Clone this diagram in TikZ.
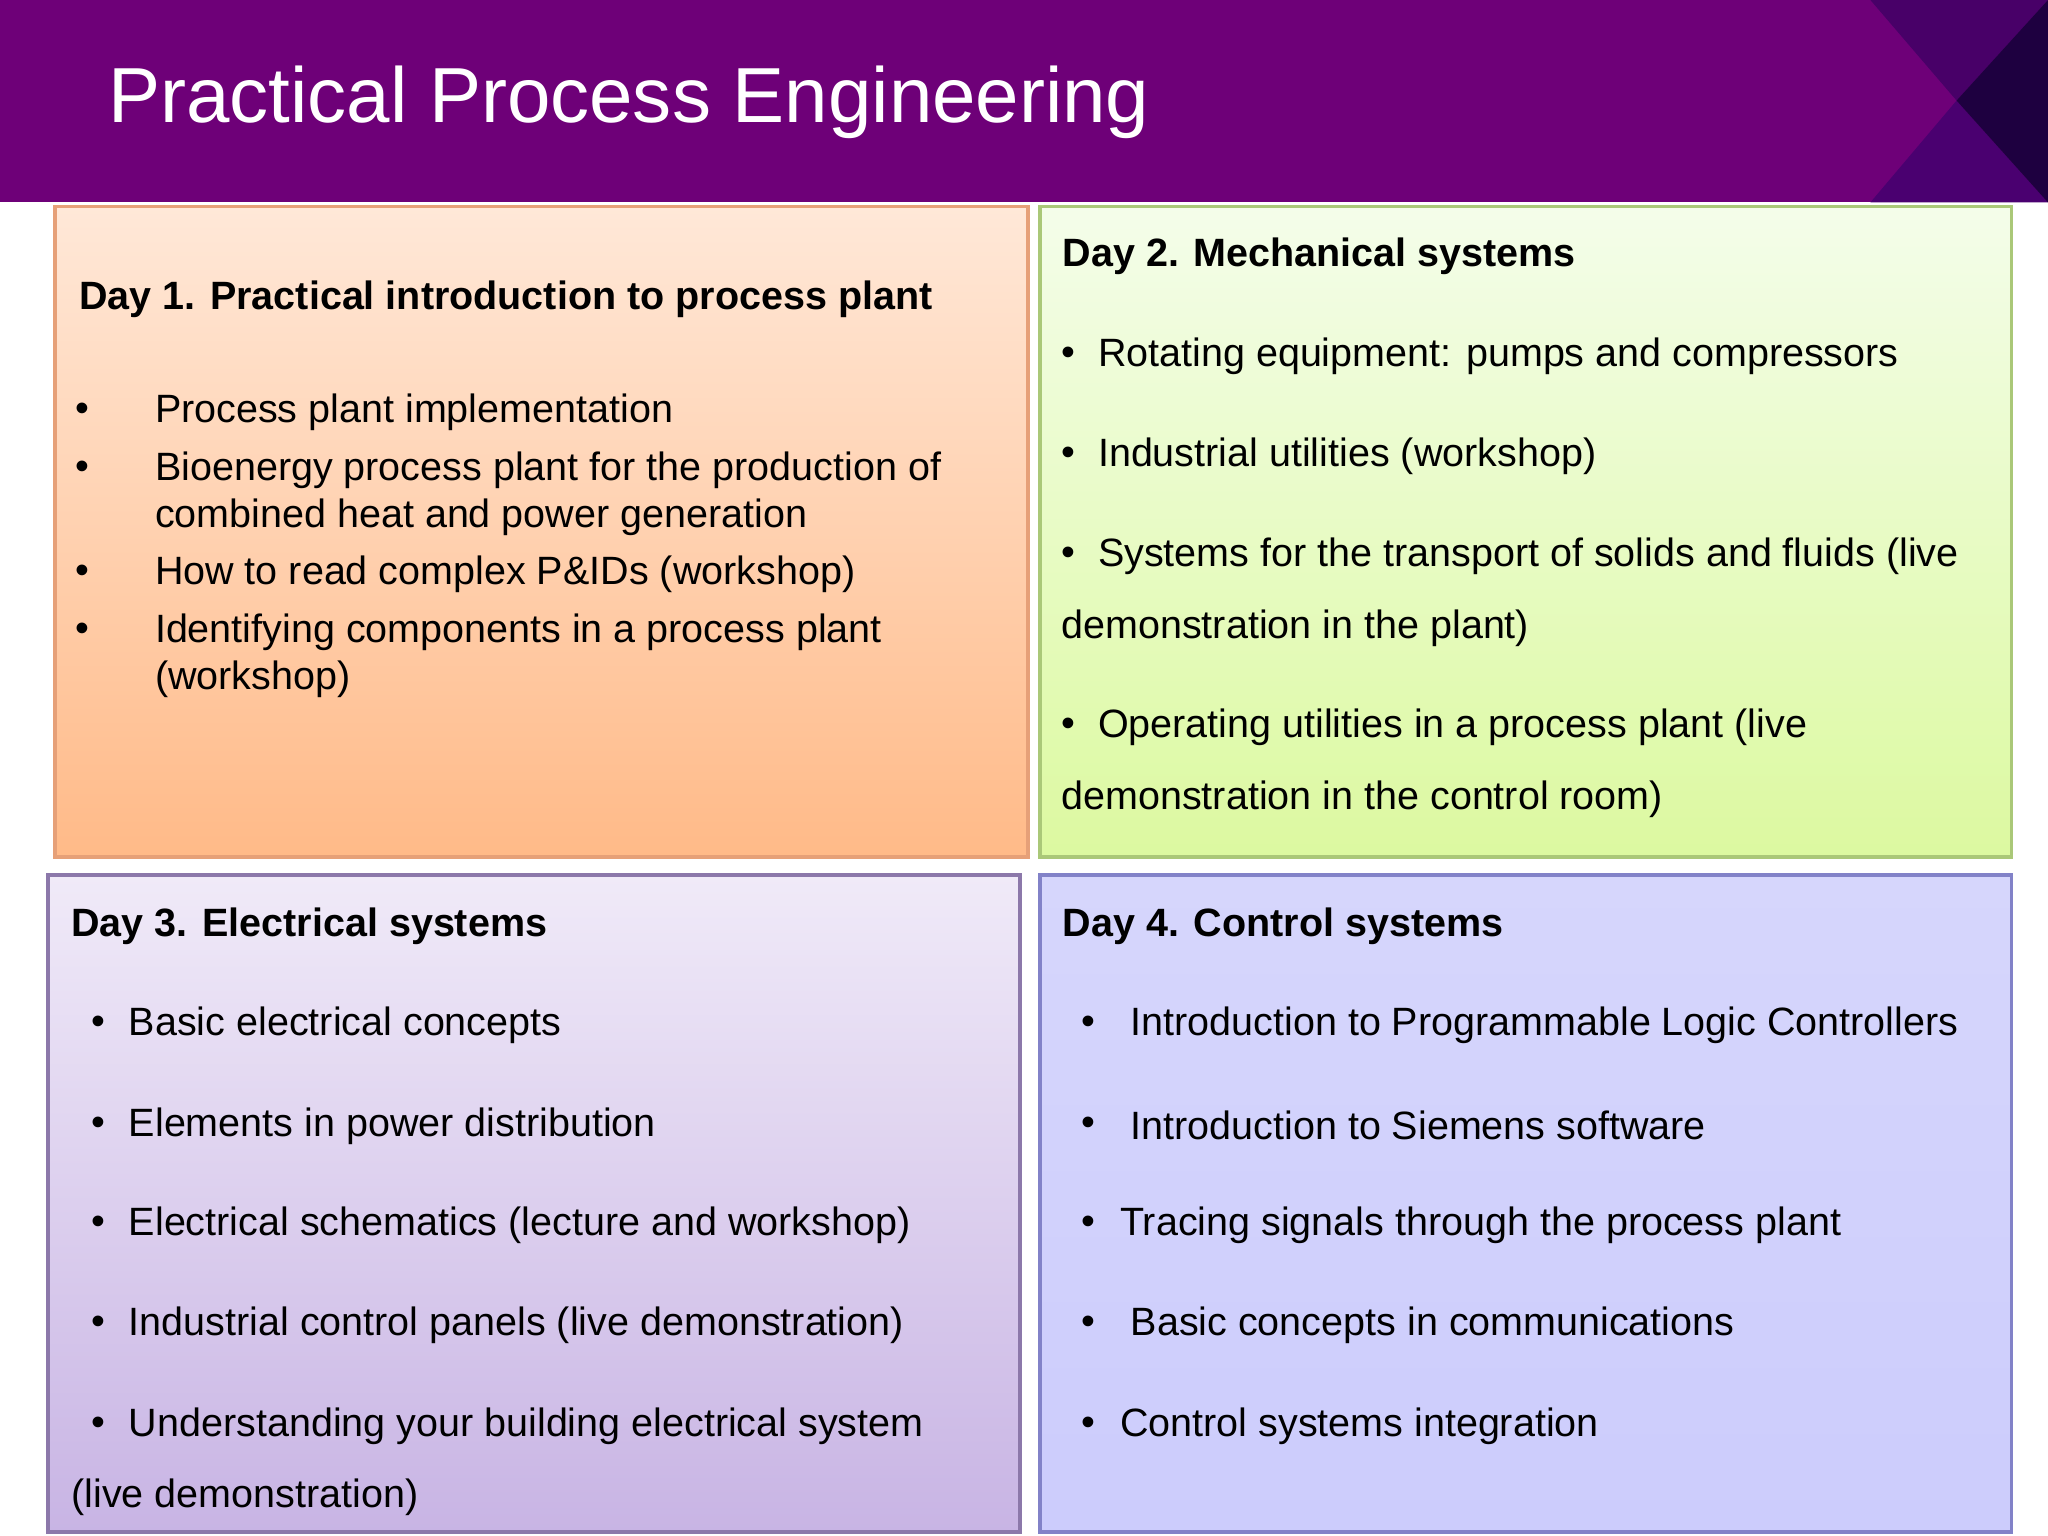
\documentclass[tikz,border=0pt]{standalone}
\usepackage{fontspec}
\setmainfont{Liberation Sans}
\definecolor{hdr}{HTML}{6E0078}
\definecolor{tri1}{RGB}{72,0,104}
\definecolor{tri2}{RGB}{74,0,112}
\definecolor{tri3}{RGB}{30,0,64}
\definecolor{oT}{RGB}{255,232,216}\definecolor{oB}{RGB}{255,186,136}\definecolor{oL}{RGB}{230,160,120}
\definecolor{gT}{RGB}{244,253,234}\definecolor{gB}{RGB}{220,249,160}\definecolor{gL}{RGB}{170,200,120}
\definecolor{pT}{RGB}{240,234,248}\definecolor{pB}{RGB}{200,180,228}\definecolor{pL}{RGB}{140,120,170}
\definecolor{bT}{RGB}{214,214,252}\definecolor{bB}{RGB}{204,204,252}\definecolor{bL}{RGB}{130,130,200}
\begin{document}
\begin{tikzpicture}[x=0.01cm,y=-0.01cm,
 box/.style={draw=#1,line width=0.8pt},
 t/.style={anchor=west,inner sep=0pt,font=\fontsize{8.6}{10}\selectfont},
 h/.style={t,font=\fontsize{8.6}{10}\selectfont\bfseries},
 b/.style={anchor=center,inner sep=0pt,font=\fontsize{8.6}{10}\selectfont}]
\useasboundingbox (0,0) rectangle (1568,1176);
\fill[white] (0,0) rectangle (1568,1176);
\fill[hdr] (0,0) rectangle (1568,155);
\fill[tri1] (1432,0) -- (1568,0) -- (1498,77) -- cycle;
\fill[tri2] (1432,155) -- (1568,155) -- (1498,77) -- cycle;
\fill[tri3] (1568,0) -- (1498,77) -- (1568,155) -- cycle;
\node[anchor=west,inner sep=0pt,text=white,font=\fontsize{17}{20}\selectfont] (title) at (82,78) {Practical Process Engineering};
% boxes
\shade[top color=oT,bottom color=oB] (42,158) rectangle (787,656);
\draw[box=oL] (42,158) rectangle (787,656);
\shade[top color=gT,bottom color=gB] (796,158) rectangle (1540,656);
\draw[box=gL] (796,158) rectangle (1540,656);
\shade[top color=pT,bottom color=pB] (37,670) rectangle (781,1173);
\draw[box=pL] (37,670) rectangle (781,1173);
\shade[top color=bT,bottom color=bB] (796,670) rectangle (1540,1173);
\draw[box=bL] (796,670) rectangle (1540,1173);
% Day 1
\node[h] (d1) at (60,229) {Day 1. Practical introduction to process plant};
\foreach \y in {316,360,440,484} \node[b] at (63,\y) {•};
\node[t] (d1a) at (118,316) {Process plant implementation};
\node[t] (d1b) at (118,360) {Bioenergy process plant for the production of};
\node[t] (d1c) at (118,396) {combined heat and power generation};
\node[t] (d1d) at (118,440) {How to read complex P\&IDs (workshop)};
\node[t] (d1e) at (118,484) {Identifying components in a process plant};
\node[t] (d1f) at (118,520) {(workshop)};
% Day 2
\node[h] (d2) at (813,196) {Day 2. Mechanical systems};
\foreach \y in {273,349,426,557} \node[b] at (818,\y) {•};
\node[t] (d2a) at (840,273) {Rotating equipment: pumps and compressors};
\node[t] (d2b) at (840,349) {Industrial utilities (workshop)};
\node[t] (d2c) at (840,426) {Systems for the transport of solids and fluids (live};
\node[t] (d2d) at (812,481) {demonstration in the plant)};
\node[t] (d2e) at (840,557) {Operating utilities in a process plant (live};
\node[t] (d2f) at (812,612) {demonstration in the control room)};
% Day 3
\node[h] (d3) at (54,709) {Day 3. Electrical systems};
\foreach \y in {785,862,938,1015,1092} \node[b] at (75,\y) {•};
\node[t] (d3a) at (98,785) {Basic electrical concepts};
\node[t] (d3b) at (98,862) {Elements in power distribution};
\node[t] (d3c) at (98,938) {Electrical schematics (lecture and workshop)};
\node[t] (d3d) at (98,1015) {Industrial control panels (live demonstration)};
\node[t] (d3e) at (98,1092) {Understanding your building electrical system};
\node[t] (d3f) at (54,1146) {(live demonstration)};
% Day 4
\node[h] (d4) at (813,709) {Day 4. Control systems};
\foreach \y in {785,862,938,1015,1092} \node[b] at (833,\y) {•};
\node[t] (d4a) at (865,785) {Introduction to Programmable Logic Controllers};
\node[t] (d4b) at (865,862) {Introduction to Siemens software};
\node[t] (d4c) at (857,938) {Tracing signals through the process plant};
\node[t] (d4d) at (865,1015) {Basic concepts in communications};
\node[t] (d4e) at (857,1092) {Control systems integration};
\end{tikzpicture}
\end{document}
